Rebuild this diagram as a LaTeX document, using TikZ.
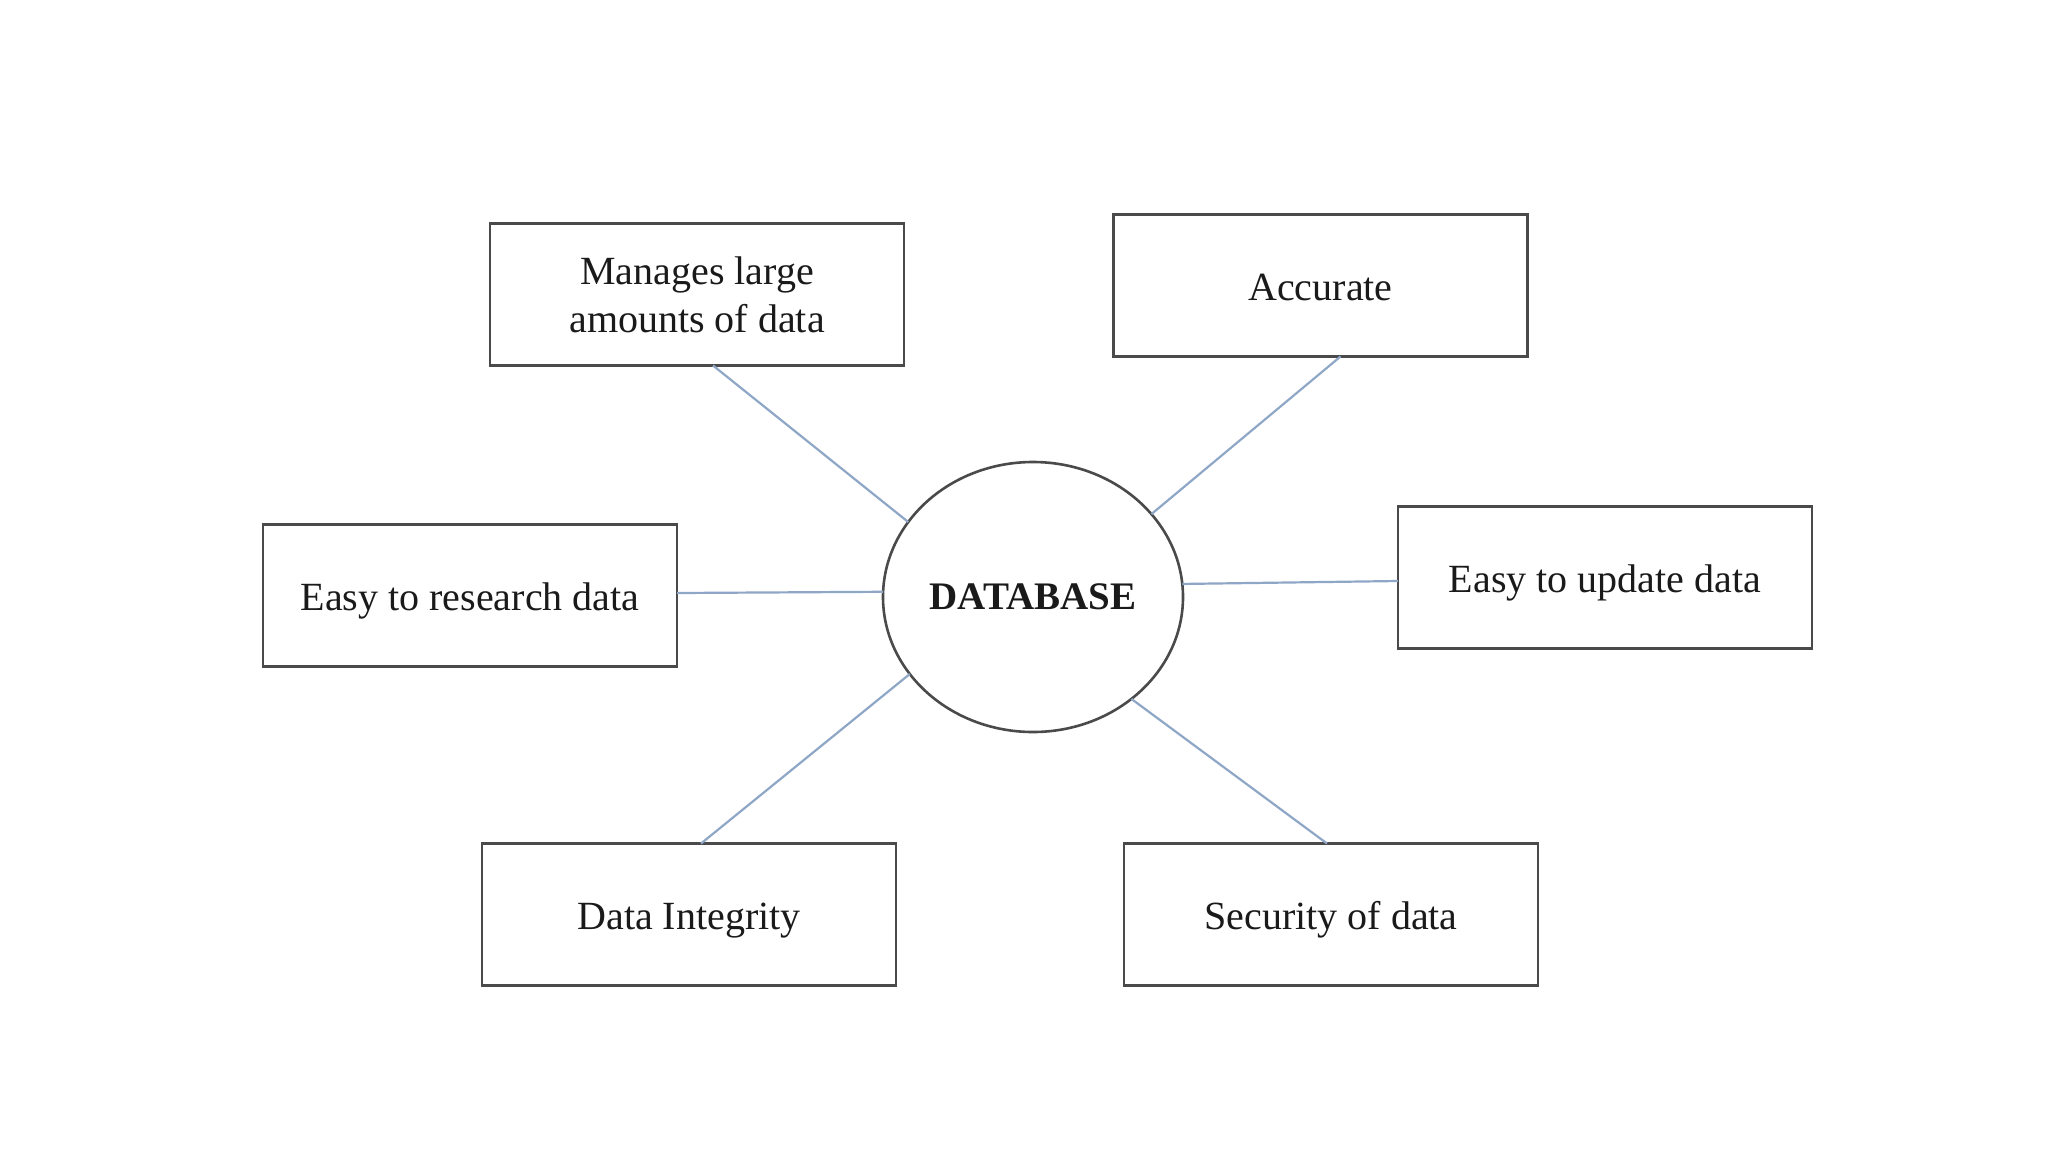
\documentclass[tikz,border=0pt]{standalone}
\usepackage{fontspec}
\setmainfont{Liberation Serif}
\usetikzlibrary{shapes.geometric}
\definecolor{boxline}{HTML}{4A4A4A}
\definecolor{conn}{HTML}{8FA7C6}
\definecolor{txt}{HTML}{1A1A1A}
\begin{document}
\begin{tikzpicture}[x=1pt,y=-1pt,
  box/.style={draw=boxline, line width=2.6pt, minimum width=414pt, minimum height=142pt,
    inner sep=0pt, outer sep=0pt, align=center, text=txt,
    font=\fontsize{40}{48}\selectfont},
  onebox/.style={box, text height=30pt, text depth=0pt},
  hub/.style={draw=boxline, line width=2.6pt, ellipse, minimum width=300pt, minimum height=270pt,
    inner sep=0pt, outer sep=0pt, text=txt, font=\fontsize{39}{48}\selectfont\bfseries},
  link/.style={draw=conn, line width=2.2pt}]
\useasboundingbox (0,0) rectangle (2048,1152);
\fill[white] (0,0) rectangle (2048,1152);
\node[hub] (db) at (1033,597) {DATABASE};
\node[box] (m) at (697,294.5) {Manages large\\amounts of data};
\node[onebox] (a) at (1320.5,285.5) {Accurate};
\node[onebox] (r) at (470,595.5) {Easy to research data};
\node[onebox] (u) at (1605,577.5) {Easy to update data};
\node[onebox] (i) at (689,914.5) {Data Integrity};
\node[onebox] (s) at (1331,914.5) {Security of data};
\draw[link] ([xshift=16pt]m.south) -- (db.149);
\draw[link] ([xshift=20pt]a.south) -- (db.35);
\draw[link] ([yshift=2.5pt]r.east) -- (db.178.5);
\draw[link] ([yshift=-3.5pt]u.west) -- (db.5);
\draw[link] ([xshift=12pt]i.north) -- (db.212);
\draw[link] ([xshift=-4pt]s.north) -- (db.314);
\end{tikzpicture}
\end{document}
